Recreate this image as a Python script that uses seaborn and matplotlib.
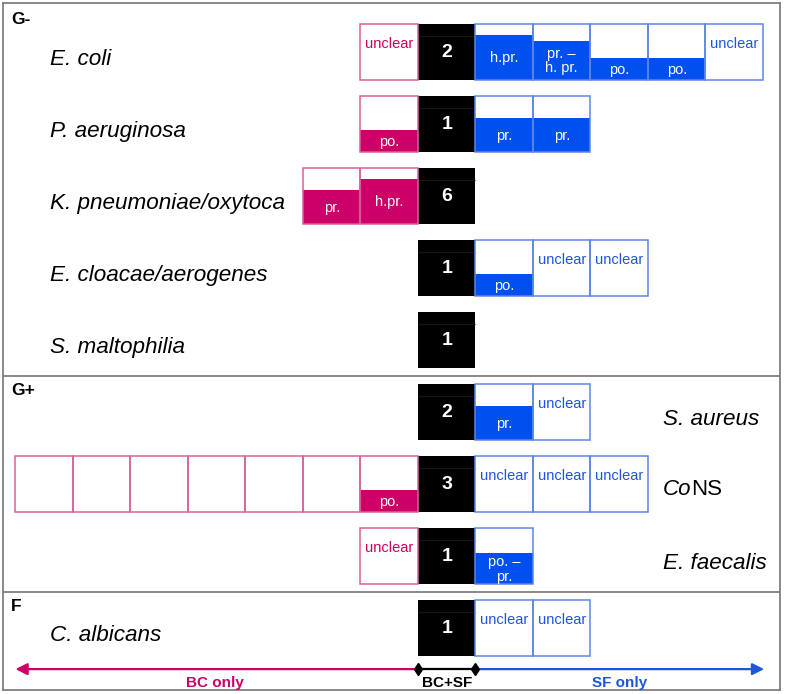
import numpy as np
import matplotlib
matplotlib.use("Agg")
import matplotlib.pyplot as plt
import seaborn as sns

# species rows, top to bottom
species = ["E. coli", "P. aeruginosa", "K. pneumoniae/oxytoca", "E. cloacae/aerogenes",
           "S. maltophilia", "S. aureus", "CoNS", "E. faecalis", "C. albicans"]
groups = ["G-", "G-", "G-", "G-", "G-", "G+", "G+", "G+", "F"]
both_counts = [2, 1, 6, 1, 1, 2, 3, 1, 1]

# BC only cells, listed from the BC+SF column outwards (None = not filled)
bc_fill = [[None], [0.40], [0.80, 0.60], [], [], [],
           [0.40, 0, 0, 0, 0, 0, 0], [None], []]
bc_text = [["unclear"], ["po."], ["h.pr.", "pr."], [], [], [],
           ["po.", "", "", "", "", "", ""], ["unclear"], []]

# SF only cells, from the BC+SF column outwards
sf_fill = [[0.81, 0.70, 0.40, 0.40, None], [0.61, 0.61], [], [0.40, None, None], [],
           [0.60, None], [None, None, None], [0.55], [None, None]]
sf_text = [["h.pr.", "pr. –\nh. pr.", "po.", "po.", "unclear"], ["pr.", "pr."], [],
           ["po.", "unclear", "unclear"], [], ["pr.", "unclear"],
           ["unclear", "unclear", "unclear"], ["po. –\npr."], ["unclear", "unclear"]]

axis_labels = ["BC only", "BC+SF", "SF only"]

PINK = "#CC0066"
PINK_EDGE = "#D9609E"
BLUE = "#0050F0"
BLUE_EDGE = "#5C86E6"
BLUE_TXT = "#1F55D9"
H = 0.778

sns.set_theme(style="white")
plt.rcParams["font.family"] = ["Liberation Sans", "DejaVu Sans"]

fig = plt.figure(figsize=(7.85, 6.94), dpi=100)
ax = fig.add_axes([3 / 785, 4 / 694, 777 / 785, 687 / 694])
ax.set_xlim(-7.217, 6.296)
ax.set_ylim(9.25, -0.292)
ax.set_xticks([])
ax.set_yticks([])
for s in ax.spines.values():
    s.set_visible(True)
    s.set_color("#808080")
    s.set_linewidth(1.3)


def draw_cells(r, xs, fills, texts, fill_col, edge_col, txt_col):
    for x, f, t in zip(xs, fills, texts):
        if f:
            ax.bar(x, f * H, bottom=r + H - f * H, width=1, color=fill_col,
                   linewidth=0, zorder=2)
        ax.bar(x, H, bottom=r, width=1, facecolor="none", edgecolor=edge_col,
               linewidth=1.1, zorder=3)
        if not t:
            continue
        if f:
            ax.text(x, r + H * (1 - f / 2) + 0.01, t, ha="center", va="center",
                    color="white", fontsize=10.5, linespacing=1.05, zorder=4)
        else:
            ax.text(x, r + H * 0.35, t, ha="center", va="center",
                    color=txt_col, fontsize=10.5, zorder=4)


for r, name in enumerate(species):
    # BC+SF column
    ax.bar(0.5, H, bottom=r, width=1, color="black", linewidth=0, zorder=2)
    ax.hlines(r + 0.16, 0, 1, color="#161616", lw=0.8, zorder=2.5)
    ax.text(0.5, r + H / 2, str(both_counts[r]), ha="center", va="center",
            color="white", fontsize=14, fontweight="bold", zorder=4)

    xl = [-0.5 - k for k in range(len(bc_fill[r]))]
    xr = [1.5 + k for k in range(len(sf_fill[r]))]
    draw_cells(r, xl, bc_fill[r], bc_text[r], PINK, PINK_EDGE, PINK)
    draw_cells(r, xr, sf_fill[r], sf_text[r], BLUE, BLUE_EDGE, BLUE_TXT)

    lx = 4.26 if groups[r] == "G+" else -6.4
    if name == "CoNS":
        t = ax.text(lx, r + 0.47, "Co", ha="left", va="center", fontsize=16,
                    style="italic", color="black")
        ax.annotate("NS", xy=(1, 0.5), xycoords=t, xytext=(0, 0),
                    textcoords="offset points", ha="left", va="center",
                    fontsize=16, color="black")
    else:
        ax.text(lx, r + 0.49, name, ha="left", va="center", fontsize=16.2,
                style="italic", color="black")

# group panels
starts = [i for i in range(len(groups)) if i == 0 or groups[i] != groups[i - 1]]
for i in starts:
    if i > 0:
        ax.axhline(i - 1 + H + (1 - H) / 2, color="#808080", lw=1.3)
        gy = i - 1 + H + (1 - H) / 2 + 0.2
    else:
        gy = -0.06
    ax.text(-7.08, gy, groups[i], ha="left", va="center", fontsize=12.5,
            fontweight="bold", color="black")

# bottom axis arrow
ay = 8.96
ax.annotate("", xy=(-7.0, ay), xytext=(0, ay),
            arrowprops=dict(arrowstyle="-|>,head_length=0.5,head_width=0.25",
                            color=PINK, lw=1.6, mutation_scale=14,
                            shrinkA=0, shrinkB=0))
ax.annotate("", xy=(6.02, ay), xytext=(1, ay),
            arrowprops=dict(arrowstyle="-|>,head_length=0.5,head_width=0.25",
                            color=BLUE_TXT, lw=1.6, mutation_scale=14,
                            shrinkA=0, shrinkB=0))
ax.plot([0, 1], [ay, ay], color="black", lw=1.6, marker="d", markersize=6,
        zorder=5)
ax.text(-3.53, 9.15, axis_labels[0], ha="center", va="center", color=PINK,
        fontsize=11, fontweight="bold")
ax.text(0.5, 9.15, axis_labels[1], ha="center", va="center", color="black",
        fontsize=11, fontweight="bold")
ax.text(3.5, 9.15, axis_labels[2], ha="center", va="center", color=BLUE_TXT,
        fontsize=11, fontweight="bold")

fig.savefig("out.png", dpi=100)
